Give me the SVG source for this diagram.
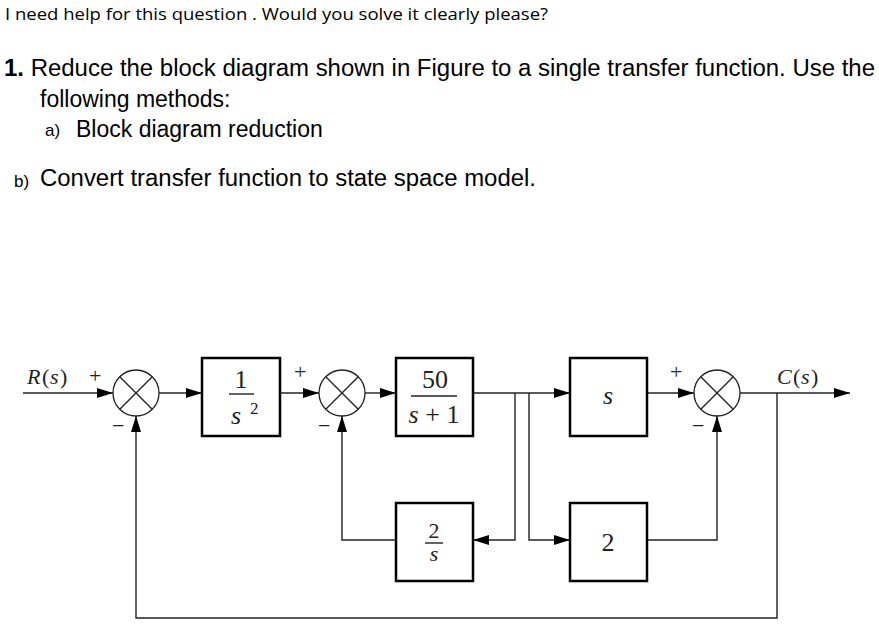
<svg xmlns="http://www.w3.org/2000/svg" width="879" height="625" viewBox="0 0 879 625">
<defs>
<marker id="ar" viewBox="0 0 16 10" refX="16" refY="5" markerWidth="17" markerHeight="10" markerUnits="userSpaceOnUse" orient="auto"><path d="M0,0L16,5L0,10z" fill="#000"/></marker>
<style>
.q{font-family:"Liberation Sans",Arial,sans-serif;fill:#000}
.m{font-family:"Liberation Serif","Times New Roman",serif;font-size:26px;fill:#222}
.b{fill:#fff;stroke:#000;stroke-width:2.5}
.s{fill:#fff;stroke:#222;stroke-width:1.3}
.l{fill:none;stroke:#222;stroke-width:1.4}
</style>
</defs>
<rect width="879" height="625" fill="#fff"/>
<g id="question">
<text x="5" y="20" class="q" style="font-family:'Open Sans',sans-serif" font-size="17" textLength="543" lengthAdjust="spacingAndGlyphs">I need help for this question . Would you solve it clearly please?</text>
<text x="4" y="76" class="q" font-size="23" textLength="871" lengthAdjust="spacingAndGlyphs"><tspan font-weight="bold">1.</tspan> Reduce the block diagram shown in Figure to a single transfer function. Use the</text>
<text x="40" y="107" class="q" font-size="23">following methods:</text>
<text x="45" y="136" class="q" font-size="17">a)</text>
<text x="76" y="137" class="q" font-size="23">Block diagram reduction</text>
<text x="14" y="187" class="q" font-size="17">b)</text>
<text x="40" y="186" class="q" font-size="23" textLength="496" lengthAdjust="spacingAndGlyphs">Convert transfer function to state space model.</text>
</g>
<g id="connectors" class="l">
<path d="M23,393H113" marker-end="url(#ar)"/>
<path d="M159,393H202" marker-end="url(#ar)"/>
<path d="M280,393H319" marker-end="url(#ar)"/>
<path d="M365,393H396" marker-end="url(#ar)"/>
<path d="M473,393H570" marker-end="url(#ar)"/>
<path d="M647,393H694" marker-end="url(#ar)"/>
<path d="M740,393H850" marker-end="url(#ar)"/>
<path d="M515,393V540H473" marker-end="url(#ar)"/>
<path d="M529,393V540H570" marker-end="url(#ar)"/>
<path d="M396,540H342V416" marker-end="url(#ar)"/>
<path d="M647,540H717V416" marker-end="url(#ar)"/>
<path d="M777,393V618H136V416" marker-end="url(#ar)"/>
</g>
<g id="sum1"><circle class="s" cx="136" cy="393" r="23"/><path class="l" d="M120,377L152,409M152,377L120,409"/></g>
<g id="sum2"><circle class="s" cx="342" cy="393" r="23"/><path class="l" d="M326,377L358,409M358,377L326,409"/></g>
<g id="sum3"><circle class="s" cx="717" cy="393" r="23"/><path class="l" d="M701,377L733,409M733,377L701,409"/></g>
<g id="signs" class="m" style="font-size:22px">
<text x="27" y="384" font-style="italic">R</text><text x="42" y="384">(</text><text x="50" y="384" font-style="italic">s</text><text x="60" y="384">)</text>
<text x="89" y="383">+</text><text x="112" y="433">−</text>
<text x="294" y="379">+</text><text x="318" y="433">−</text>
<text x="670" y="379">+</text><text x="692" y="433">−</text>
<text x="777" y="384" font-style="italic">C</text><text x="793" y="384">(</text><text x="801" y="384" font-style="italic">s</text><text x="811" y="384">)</text>
</g>
<g id="g1"><rect class="b" x="202" y="358" width="78" height="78"/><text class="m" x="241" y="388" text-anchor="middle">1</text><path class="l" d="M229,394H254"/><text class="m" x="236" y="424" text-anchor="middle" font-style="italic">s</text><text class="m" x="250" y="414" style="font-size:17px">2</text></g>
<g id="g2"><rect class="b" x="396" y="358" width="77" height="78"/><text class="m" x="435" y="388" text-anchor="middle">50</text><path class="l" d="M411,396H457"/><text class="m" x="434" y="423" text-anchor="middle"><tspan font-style="italic">s</tspan> + 1</text></g>
<g id="g3"><rect class="b" x="570" y="358" width="77" height="78"/><text class="m" x="608" y="404" text-anchor="middle" font-style="italic">s</text></g>
<g id="h1"><rect class="b" x="396" y="503" width="77" height="78"/><text class="m" x="434" y="538" text-anchor="middle" style="font-size:22px">2</text><path class="l" d="M425,543H443"/><text class="m" x="434" y="561" text-anchor="middle" style="font-size:22px" font-style="italic">s</text></g>
<g id="h2"><rect class="b" x="570" y="503" width="77" height="78"/><text class="m" x="608" y="551" text-anchor="middle">2</text></g>
</svg>
